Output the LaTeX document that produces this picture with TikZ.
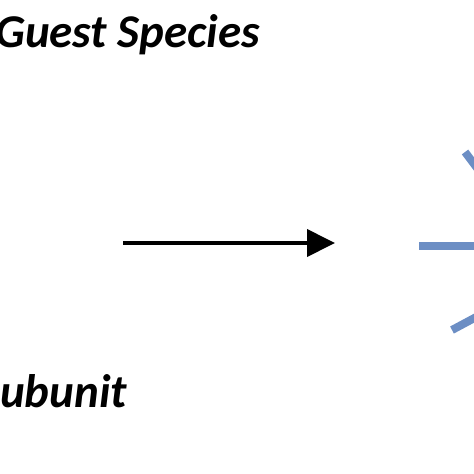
\documentclass[tikz,border=0pt]{standalone}
\usepackage{fontspec}
\setsansfont{Carlito}
\usepackage{tikz}
\usetikzlibrary{arrows.meta,positioning}
\definecolor{rayblue}{RGB}{108,142,196}

\begin{document}
\begin{tikzpicture}[x=1pt,y=-1pt,
  label text/.style={font=\sffamily\bfseries\itshape\fontsize{47}{56}\selectfont, inner sep=0pt},
  ray/.style={rayblue, line width=8pt}]
\useasboundingbox (0,0) rectangle (474,474);
% Labels
\node[label text, anchor=base west] (guest) at (-5,47) {Guest Species};
\node[label text, anchor=base west] (subunit) at (0,407) {ubunit};
% Reaction arrow
\coordinate (arrowstart) at (123,243);
\coordinate (arrowend) at (335,243);
\draw[line width=4pt, -{Triangle[length=28pt, width=27pt]}] (arrowstart) -- (arrowend);
% Rays of the product
\draw[ray] (419,246) -- (480,246);
\draw[ray] (465,152) -- (480,172);
\draw[ray] (452,330) -- (480,315);
\end{tikzpicture}
\end{document}
